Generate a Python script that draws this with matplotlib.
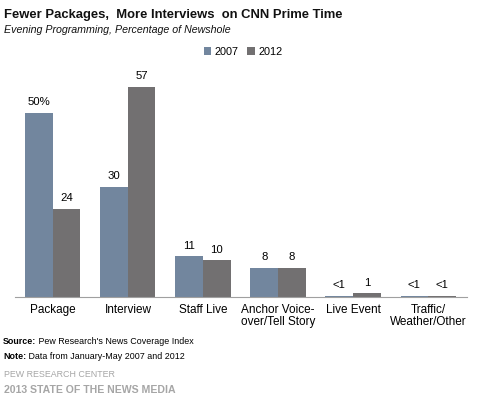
import matplotlib
matplotlib.use('Agg')
import matplotlib.pyplot as plt
import numpy as np

plt.rcParams['font.family'] = ['Liberation Sans', 'DejaVu Sans']

categories = ['Package', 'Interview', 'Staff Live', 'Anchor Voice-\nover/Tell Story',
              'Live Event', 'Traffic/\nWeather/Other']
vals_2007 = [50, 30, 11, 8, 0.4, 0.4]
vals_2012 = [24, 57, 10, 8, 1, 0.4]
labels_2007 = ['50%', '30', '11', '8', '<1', '<1']
labels_2012 = ['24', '57', '10', '8', '1', '<1']

c2007 = '#72869E'
c2012 = '#727071'

fig = plt.figure(figsize=(4.81, 4.0), dpi=100)
ax = fig.add_axes([0.031, 0.2575, 0.94, 0.5525])

x = np.arange(len(categories))
w = 0.367
b1 = ax.bar(x - w/2, vals_2007, w, color=c2007, label='2007')
b2 = ax.bar(x + w/2, vals_2012, w, color=c2012, label='2012')

for bars, labs in ((b1, labels_2007), (b2, labels_2012)):
    for rect, lab in zip(bars, labs):
        ax.annotate(lab, (rect.get_x() + rect.get_width()/2, rect.get_height()),
                    xytext=(0, 4), textcoords='offset points',
                    ha='center', va='bottom', fontsize=8.2, color='#000000')

ax.set_xlim(-0.507, 5.52)
ax.set_ylim(0, 60)
ax.set_xticks(x)
ax.set_xticklabels(categories, fontsize=8.5, linespacing=1.05)
ax.tick_params(axis='x', length=0, pad=5)
ax.set_yticks([])
for s in ['top', 'right', 'left']:
    ax.spines[s].set_visible(False)
ax.spines['bottom'].set_color('#A0A0A0')
ax.spines['bottom'].set_linewidth(0.8)

ax.legend(loc='center', bbox_to_anchor=(0.505, 0.87), bbox_transform=fig.transFigure,
          ncol=2, frameon=False, fontsize=7.8, handlelength=0.7, handleheight=0.7,
          handletextpad=0.3, columnspacing=0.8)

fig.text(0.008, 0.978, 'Fewer Packages,  More Interviews  on CNN Prime Time',
         fontsize=9.4, fontweight='bold', va='top', color='#111111')
fig.text(0.008, 0.937, 'Evening Programming, Percentage of Newshole',
         fontsize=7.7, style='italic', va='top', color='#111111')

# source / note: bold lead-in followed by plain text
notes = [('Source:', " Pew Research's News Coverage Index", 0.145),
         ('Note:', ' Data from January-May 2007 and 2012', 0.108)]
for head, rest, yy in notes:
    t = fig.text(0.006, yy, head, fontsize=6.4, fontweight='bold', va='center')
    fig.canvas.draw()
    bb = t.get_window_extent(fig.canvas.get_renderer())
    fig.text(bb.x1 / fig.bbox.width, yy, rest, fontsize=6.4, va='center')

fig.text(0.008, 0.063, 'PEW RESEARCH CENTER', fontsize=6.4, color='#A6A6A6', va='center')
fig.text(0.008, 0.025, '2013 STATE OF THE NEWS MEDIA', fontsize=7.6, fontweight='bold',
         color='#A6A6A6', va='center')

fig.savefig('out.png', dpi=100)
